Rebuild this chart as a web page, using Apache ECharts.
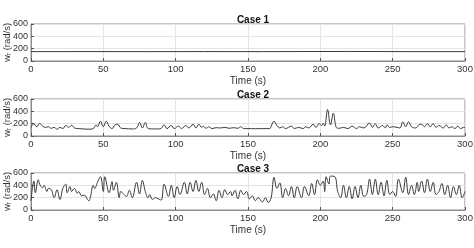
<!DOCTYPE html>
<html>
<head>
<meta charset="utf-8">
<script src="https://cdn.jsdelivr.net/npm/echarts@6/dist/echarts.min.js"></script>
<style>
  html, body { margin: 0; padding: 0; background: #fff; }
  #chart { width: 474px; height: 248px; }
</style>
</head>
<body>
<div id="chart"></div>
<script>
// x ticks and y ticks shared by all three panels
var xTicks = [0, 50, 100, 150, 200, 250, 300]
var yTicks = [0, 200, 400, 600]

// Case 1: nearly constant speed
var t1 = [0, 40, 80, 120, 160, 220, 260, 300]
var v1 = [152, 153, 152, 153, 152, 155, 152, 152]

// Case 2
var t2 = [0, 2, 4, 6, 8, 10, 12, 14, 16, 18, 20, 22, 24, 26, 28, 30, 33, 36, 40, 43, 45, 46, 48, 50, 52, 54, 56, 58, 60, 62, 65, 70, 73, 75, 77, 79, 81, 84, 88, 90, 92, 94, 97, 99, 102, 104, 107, 109, 112, 114, 116, 118, 119, 121, 123, 125, 128, 131, 134, 137, 140, 143, 145, 147, 150, 155, 160, 165, 166, 168, 170, 172, 174, 176, 178, 180, 182, 185, 188, 190, 192, 195, 197, 199, 201, 202, 203, 205, 207, 209, 211, 213, 216, 219, 222, 225, 227, 230, 234, 236, 238, 240, 243, 245, 246, 248, 250, 253, 255, 257, 259, 261, 263, 266, 268, 270, 272, 274, 276, 278, 280, 282, 285, 287, 289, 291, 293, 295, 297, 299, 300]
var v2 = [140, 200, 150, 205, 160, 140, 150, 125, 140, 110, 140, 120, 170, 140, 175, 130, 120, 115, 110, 120, 180, 150, 240, 150, 240, 160, 120, 180, 190, 130, 120, 115, 130, 220, 130, 220, 120, 115, 115, 125, 180, 120, 170, 120, 160, 120, 170, 130, 190, 130, 190, 140, 160, 125, 150, 120, 135, 130, 140, 125, 135, 125, 150, 120, 120, 118, 120, 120, 160, 240, 170, 130, 150, 120, 140, 160, 120, 140, 120, 150, 130, 190, 140, 200, 170, 210, 160, 430, 180, 370, 140, 125, 140, 120, 160, 120, 150, 130, 210, 140, 200, 130, 170, 130, 180, 140, 150, 140, 130, 230, 150, 230, 150, 130, 180, 190, 150, 200, 150, 200, 140, 170, 130, 180, 130, 150, 120, 160, 120, 140, 135]

// Case 3
var t3 = [0, 2, 3, 5, 6, 8, 9, 11, 12, 14, 16, 18, 20, 22, 24, 25, 27, 28, 30, 32, 33, 35, 37, 39, 40, 41, 43, 44, 46, 48, 50, 51, 54, 56, 57, 59, 61, 62, 64, 66, 68, 70, 73, 75, 77, 79, 81, 82, 84, 86, 88, 90, 92, 95, 97, 99, 101, 103, 106, 108, 110, 112, 114, 116, 118, 120, 122, 124, 126, 128, 130, 132, 134, 136, 138, 139, 141, 143, 145, 147, 149, 151, 153, 155, 157, 160, 162, 164, 166, 168, 170, 172, 174, 176, 178, 180, 182, 184, 187, 189, 192, 194, 196, 198, 200, 202, 203, 204, 206, 207, 210, 212, 214, 216, 218, 220, 222, 224, 226, 228, 230, 232, 234, 236, 238, 240, 242, 244, 246, 248, 250, 252, 254, 257, 259, 261, 263, 265, 267, 268, 270, 272, 274, 276, 278, 280, 282, 284, 286, 288, 290, 292, 294, 296, 298, 300]
var v3 = [150, 470, 280, 490, 420, 360, 400, 300, 350, 330, 200, 330, 170, 350, 420, 280, 380, 300, 350, 270, 300, 230, 240, 170, 150, 200, 400, 350, 450, 540, 300, 540, 280, 460, 320, 450, 200, 300, 260, 220, 320, 200, 450, 260, 480, 300, 200, 250, 170, 200, 180, 160, 420, 220, 400, 200, 380, 250, 450, 260, 450, 300, 480, 300, 450, 250, 350, 200, 260, 150, 320, 200, 330, 250, 300, 230, 320, 180, 320, 250, 300, 180, 230, 150, 200, 130, 200, 120, 200, 530, 350, 440, 200, 350, 230, 380, 200, 380, 200, 380, 230, 430, 250, 490, 400, 470, 300, 540, 420, 550, 540, 300, 200, 400, 200, 380, 180, 380, 200, 400, 220, 250, 500, 250, 500, 250, 450, 230, 480, 250, 300, 220, 500, 280, 530, 250, 400, 250, 450, 300, 470, 280, 500, 300, 450, 250, 300, 430, 250, 400, 200, 380, 250, 400, 200, 300]

var font = 'Liberation Sans, Arial, sans-serif'
var tops = [24, 99, 173]
var titles = ['Case 1', 'Case 2', 'Case 3']
var times = [t1, t2, t3]
var vals = [v1, v2, v3]

function pairs(t, v) {
  var out = []
  for (var i = 0; i < t.length; i++) out.push([t[i], v[i]])
  return out
}

var grid = [], xAxis = [], yAxis = [], series = [], title = []
for (var k = 0; k < 3; k++) {
  grid.push({left: 31, right: 9, top: tops[k], height: 37, show: true, borderColor: '#8c8c8c', borderWidth: 1,
    containLabel: false, outerBoundsMode: 'none'})
  title.push({
    text: titles[k], left: 248, top: tops[k] - 14, textAlign: 'center',
    textStyle: {fontFamily: font, fontSize: 10, fontWeight: 'bold', color: '#111'}
  })
  xAxis.push({
    gridIndex: k, type: 'value', min: xTicks[0], max: xTicks[xTicks.length - 1], interval: 50,
    name: 'Time (s)', nameLocation: 'middle', nameGap: 15, nameMoveOverlap: false,
    nameTextStyle: {fontFamily: font, fontSize: 10, color: '#333'},
    axisLine: {lineStyle: {color: '#8c8c8c'}},
    axisTick: {inside: true, length: 3, lineStyle: {color: '#555'}},
    axisLabel: {fontFamily: font, fontSize: 9.5, color: '#333', margin: 3},
    splitLine: {show: true, lineStyle: {color: '#e4e4e4', width: 1}}
  })
  yAxis.push({
    gridIndex: k, type: 'value', min: yTicks[0], max: yTicks[yTicks.length - 1], interval: 200,
    name: 'wᵣ (rad/s)', nameLocation: 'middle', nameGap: 19, nameRotate: 90, nameMoveOverlap: false,
    nameTextStyle: {fontFamily: font, fontSize: 9.5, color: '#333'},
    axisLine: {show: true, lineStyle: {color: '#8c8c8c'}},
    axisTick: {show: true, inside: true, length: 3, lineStyle: {color: '#555'}},
    axisLabel: {fontFamily: font, fontSize: 9, color: '#333', margin: 3},
    splitLine: {show: true, lineStyle: {color: '#e4e4e4', width: 1}}
  })
  series.push({
    type: 'line', xAxisIndex: k, yAxisIndex: k, data: pairs(times[k], vals[k]),
    smooth: k === 0 ? false : 0.4, showSymbol: false, silent: true,
    lineStyle: {color: '#3a3a3a', width: 1}
  })
}

var chart = echarts.init(document.getElementById('chart'), null, {renderer: 'canvas'})
chart.setOption({animation: false, title: title, grid: grid, xAxis: xAxis, yAxis: yAxis, series: series})
window.addEventListener('resize', function () { chart.resize() })
</script>
</body>
</html>
